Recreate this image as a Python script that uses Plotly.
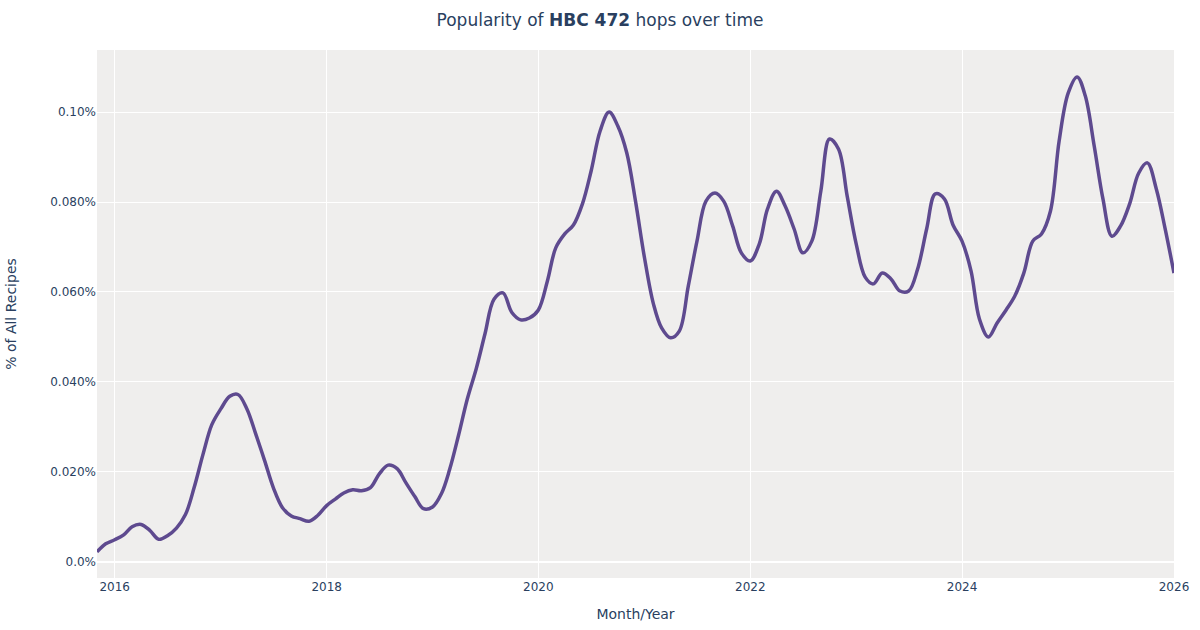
import pandas as pd
import plotly.graph_objects as go

months = pd.date_range("2015-11-01", "2026-01-01", freq="MS")

popularity_pct = [
    0.0022, 0.0040,
    # 2016
    0.0049, 0.0060, 0.0078, 0.0083, 0.0070, 0.0050, 0.0058, 0.0075, 0.0105, 0.0165, 0.0240, 0.0305,
    # 2017
    0.0340, 0.0368, 0.0372, 0.0340, 0.0285, 0.0225, 0.0165, 0.0121, 0.0102, 0.0096, 0.0090, 0.0103,
    # 2018
    0.0125, 0.0140, 0.0153, 0.0160, 0.0158, 0.0165, 0.0195, 0.0215, 0.0207, 0.0176, 0.0145, 0.0118,
    # 2019
    0.0122, 0.0152, 0.0205, 0.0282, 0.0362, 0.0430, 0.0507, 0.0584, 0.0598, 0.0555, 0.0538, 0.0542,
    # 2020
    0.0560, 0.0624, 0.0698, 0.0729, 0.0749, 0.0796, 0.0869, 0.0958, 0.1000, 0.0969, 0.0909, 0.0802,
    # 2021
    0.0676, 0.0573, 0.0520, 0.0498, 0.0513, 0.0613, 0.0713, 0.0802, 0.0820, 0.0802, 0.0747, 0.0687,
    # 2022
    0.0669, 0.0707, 0.0784, 0.0824, 0.0791, 0.0740, 0.0687, 0.0713, 0.0824, 0.0940, 0.0918, 0.0813,
    # 2023
    0.0707, 0.0633, 0.0618, 0.0642, 0.0629, 0.0602, 0.0602, 0.0651, 0.0740, 0.0818, 0.0807, 0.0749,
    # 2024
    0.0713, 0.0647, 0.0540, 0.0500, 0.0531, 0.0560, 0.0591, 0.0642, 0.0713, 0.0729, 0.0780, 0.0936,
    # 2025
    0.1042, 0.1078, 0.1036, 0.0924, 0.0807, 0.0724, 0.0747, 0.0796, 0.0864, 0.0887, 0.0829, 0.0742,
    # 2026
    0.0642,
]

title_text = "Popularity of <b>HBC 472</b> hops over time"
x_title = "Month/Year"
y_title = "% of All Recipes"

fig = go.Figure()
fig.add_trace(go.Scatter(
    x=months,
    y=popularity_pct,
    mode="lines",
    line=dict(color="#5e4a8f", width=3.5, shape="spline"),
    showlegend=False,
))

fig.update_layout(
    template="plotly",
    width=1200,
    height=630,
    paper_bgcolor="white",
    plot_bgcolor="#efeeed",
    margin=dict(l=97, r=26, t=50, b=52),
    title=dict(text=title_text, x=0.5, xanchor="center", y=0.968, yanchor="middle",
               font=dict(size=17, color="#2a3f5f")),
    font=dict(family="DejaVu Sans, sans-serif", color="#2a3f5f"),
)
fig.update_xaxes(
    automargin=False,
    title=dict(text=x_title, font=dict(size=14), standoff=16),
    range=[months[0], months[-1]],
    gridcolor="white",
    dtick="M24",
    tickformat="%Y",
    tickfont=dict(size=12),
)
fig.update_yaxes(
    automargin=False,
    title=dict(text=y_title, font=dict(size=14), standoff=30),
    range=[-0.0036, 0.1138],
    dtick=0.02,
    tick0=0,
    tickformat=".2r",
    ticksuffix="%",
    gridcolor="white",
    zerolinecolor="white",
    zerolinewidth=2,
    tickfont=dict(size=12),
)

fig.write_html("out.html")
